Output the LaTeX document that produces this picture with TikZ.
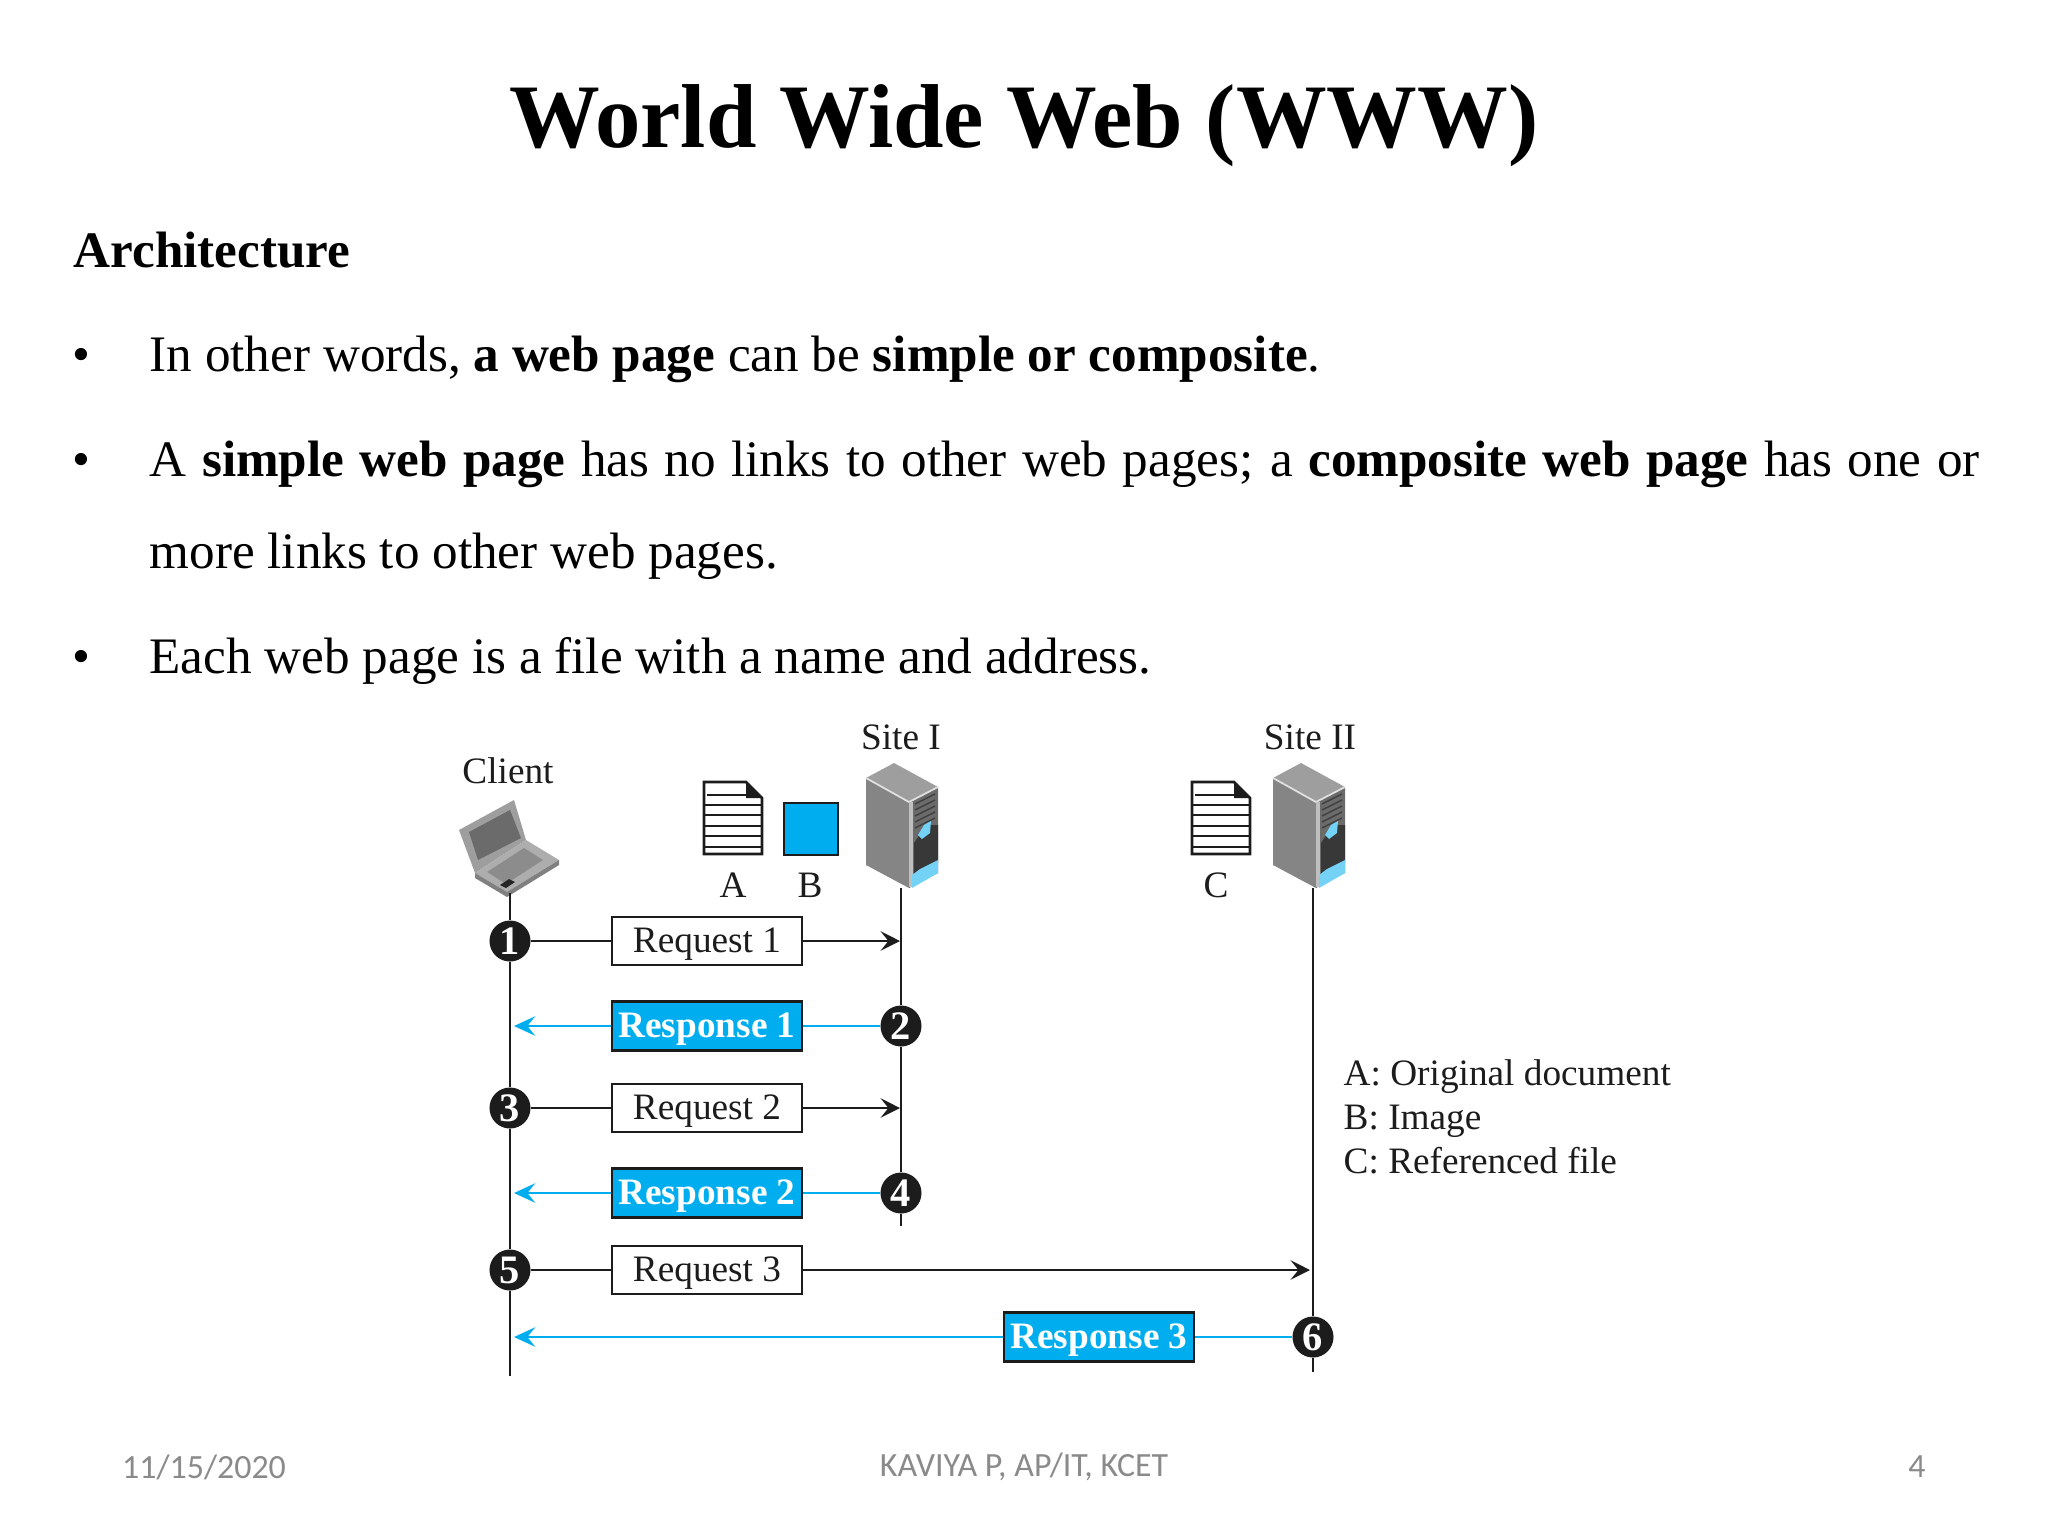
\documentclass[tikz,border=0pt]{standalone}
\usepackage{fontspec}
\setmainfont{Liberation Serif}
\newfontfamily\footfont{Carlito}
\usetikzlibrary{arrows.meta}
\definecolor{respblue}{HTML}{00AEEF}
\definecolor{footgray}{HTML}{8A8A8A}
\definecolor{inkblack}{HTML}{1C1C1C}
\tikzset{
    bodytext/.style = {anchor=base west, inner sep=0, font=\fontsize{14.55}{17}\selectfont},
    figtext/.style = {inner sep=0, text=inkblack, font=\fontsize{10.6}{12}\selectfont},
    foottext/.style = {inner sep=0, text=footgray, font=\footfont\fontsize{9.65}{11}\selectfont},
    reqbox/.style = {draw=inkblack, line width=0.8pt, fill=white, minimum width=1.9cm, minimum height=0.48cm, inner sep=0, text height=9.2pt, text depth=2.5pt, text=inkblack, font=\fontsize{10.6}{12}\selectfont},
    respbox/.style = {draw=inkblack, line width=0.8pt, fill=respblue, minimum width=1.9cm, minimum height=0.49cm, inner sep=0, text height=9.2pt, text depth=2.5pt, text=white, font=\bfseries\fontsize{10.6}{12}\selectfont},
    marker/.style = {circle, fill=inkblack, minimum size=0.41cm, inner sep=0, text=white, font=\bfseries\fontsize{11.5}{12}\selectfont},
    lifeline/.style = {draw=inkblack, line width=0.8pt},
    reqline/.style = {draw=inkblack, line width=0.8pt},
    respline/.style = {draw=respblue, line width=0.8pt},
    reqarrow/.style = {reqline, -{Stealth[length=5.5pt, width=5.5pt, inset=2.2pt]}},
    resparrow/.style = {respline, -{Stealth[length=6pt, width=5.5pt, inset=2.2pt]}},
    pics/docicon/.style = {code={
        \draw [draw=inkblack, line width=0.8pt, fill=white] (0, 0) -- (42, 0) -- (58, 16) -- (58, 72) -- (0, 72) -- cycle;
        \fill [inkblack] (42, 0) -- (58, 16) -- (42, 16) -- cycle;
        \draw [inkblack, line width=0.8pt] (3, 13) -- (42, 13);
        \draw [inkblack, line width=0.8pt] (0, 23) -- (58, 23);
        \draw [inkblack, line width=0.8pt] (0, 33) -- (58, 33);
        \draw [inkblack, line width=0.8pt] (0, 44) -- (58, 44);
        \draw [inkblack, line width=0.8pt] (0, 54) -- (58, 54);
        \draw [inkblack, line width=0.8pt] (0, 65) -- (58, 65);
    }},
    pics/servericon/.style = {code={
        \fill [black!38] (0, 15) -- (28, 0) -- (72, 24) -- (43, 39) -- cycle;
        \fill [black!48] (0, 15) -- (43, 39) -- (43, 125) -- (0, 102) -- cycle;
        \fill [black!58] (43, 39) -- (72, 24) -- (72, 110) -- (43, 125) -- cycle;
        \draw [black!12, line width=0.5pt] (0, 15) -- (43, 39) -- (72, 24);
        \draw [black!25, line width=1.2pt] (45, 39) -- (45, 124);
        \foreach \v in {36, 42, 48, 54, 60}
            \draw [black!75, line width=0.4pt] (49, \v + 5) -- (69, \v - 5);
        \fill [black!78] (48, 80) -- (60, 62) -- (72, 62) -- (72, 100) -- (48, 113) -- cycle;
        \fill [respblue!55] (52, 72) -- (58, 62) -- (65, 58) -- (64, 70) -- (56, 76) -- cycle;
        \fill [respblue!55] (46, 112) -- (54, 106) -- (72, 97) -- (72, 110) -- (46, 125) -- cycle;
    }},
    pics/laptopicon/.style = {code={
        \fill [black!38] (0, 30) -- (55, 0) -- (67, 40) -- (16, 73) -- cycle;
        \fill [black!58] (10, 32) -- (51, 10) -- (62, 38) -- (19, 60) -- cycle;
        \fill [black!32] (16, 73) -- (67, 40) -- (100, 60) -- (48, 92) -- cycle;
        \fill [black!50] (16, 73) -- (48, 92) -- (100, 60) -- (100, 65) -- (48, 97) -- (16, 78) -- cycle;
        \fill [black!45] (28, 72) -- (65, 48) -- (84, 60) -- (47, 84) -- cycle;
        \fill [black!85] (41, 85) -- (50, 79) -- (56, 82) -- (47, 88) -- cycle;
    }}
}
\begin{document}
\begin{tikzpicture}[x = 0.01cm, y = -0.01cm]
            \useasboundingbox (0, 0) rectangle (2048, 1536);
            % slide text
            \node [inner sep=0, font=\bfseries\fontsize{25.8}{30}\selectfont] (title) at (1024, 126) {World Wide Web (WWW)};
            \node [bodytext, font=\bfseries\fontsize{14.55}{17}\selectfont] (heading) at (73, 267) {Architecture};
            \node [bodytext] (bulletA) at (72, 371) {•};
            \node [bodytext] (lineA) at (149, 371) {In other words, \textbf{a web page} can be \textbf{simple or composite}.};
            \node [bodytext] (bulletB) at (72, 476) {•};
            \node [bodytext] (lineB) at (149, 476) {\makebox[18.29cm][s]{A \textbf{simple web page} has no links to other web pages; a \textbf{composite web page} has one or}};
            \node [bodytext] (lineC) at (149, 568) {more links to other web pages.};
            \node [bodytext] (bulletC) at (72, 673) {•};
            \node [bodytext] (lineD) at (149, 673) {Each web page is a file with a name and address.};
            % icons
            \pic at (459, 800) {laptopicon};
            \pic at (704, 782) {docicon};
            \pic at (1192, 782) {docicon};
            \pic at (866, 763) {servericon};
            \pic at (1273, 763) {servericon};
            \node [draw=inkblack, line width=0.8pt, fill=respblue, minimum width=0.54cm, minimum height=0.52cm, inner sep=0] (imageB) at (811, 829) {};
            % labels
            \node [figtext] (client) at (508, 771) {Client};
            \node [figtext] (siteI) at (901, 737) {Site I};
            \node [figtext] (siteII) at (1310, 737) {Site II};
            \node [figtext] (labelA) at (733, 885) {A};
            \node [figtext] (labelB) at (810, 885) {B};
            \node [figtext] (labelC) at (1216, 885) {C};
            \node [figtext, anchor=base west] (legendA) at (1343, 1085) {A: Original document};
            \node [figtext, anchor=base west] (legendB) at (1343, 1129) {B: Image};
            \node [figtext, anchor=base west] (legendC) at (1343, 1173) {C: Referenced file};
            % messages
            \node [reqbox] (req1) at (707, 941) {Request 1};
            \node [respbox] (resp1) at (707, 1026) {Response 1};
            \node [reqbox] (req2) at (707, 1108) {Request 2};
            \node [respbox] (resp2) at (707, 1193) {Response 2};
            \node [reqbox] (req3) at (707, 1270) {Request 3};
            \node [respbox] (resp3) at (1099, 1337) {Response 3};
            \node [marker] (m1) at (510, 941) {1};
            \node [marker] (m2) at (901, 1026) {2};
            \node [marker] (m3) at (510, 1108) {3};
            \node [marker] (m4) at (901, 1193) {4};
            \node [marker] (m5) at (510, 1270) {5};
            \node [marker] (m6) at (1313, 1337) {6};
            % ends of the lines
            \coordinate (clientTop) at (510, 893);
            \coordinate (clientEnd) at (510, 1376);
            \coordinate (siteITop) at (901, 888);
            \coordinate (siteIEnd) at (901, 1226);
            \coordinate (siteIITop) at (1313, 888);
            \coordinate (siteIIEnd) at (1313, 1372);
            \coordinate (hit1) at (900, 941);
            \coordinate (hit2) at (900, 1108);
            \coordinate (hit3) at (1310, 1270);
            \coordinate (back1) at (514, 1026);
            \coordinate (back2) at (514, 1193);
            \coordinate (back3) at (514, 1337);
            % lines
            \draw [lifeline] (clientTop) -- (m1) -- (m3) -- (m5) -- (clientEnd);
            \draw [lifeline] (siteITop) -- (m2) -- (m4) -- (siteIEnd);
            \draw [lifeline] (siteIITop) -- (m6) -- (siteIIEnd);
            \draw [reqline] (m1) -- (req1);
            \draw [reqarrow] (req1) -- (hit1);
            \draw [respline] (m2) -- (resp1);
            \draw [resparrow] (resp1) -- (back1);
            \draw [reqline] (m3) -- (req2);
            \draw [reqarrow] (req2) -- (hit2);
            \draw [respline] (m4) -- (resp2);
            \draw [resparrow] (resp2) -- (back2);
            \draw [reqline] (m5) -- (req3);
            \draw [reqarrow] (req3) -- (hit3);
            \draw [respline] (m6) -- (resp3);
            \draw [resparrow] (resp3) -- (back3);
            % footer
            \node [foottext] (date) at (204, 1467) {11/15/2020};
            \node [foottext] (author) at (1024, 1467) {KAVIYA P, AP/IT, KCET};
            \node [foottext] (pageno) at (1917, 1467) {4};
        \end{tikzpicture}
\end{document}
